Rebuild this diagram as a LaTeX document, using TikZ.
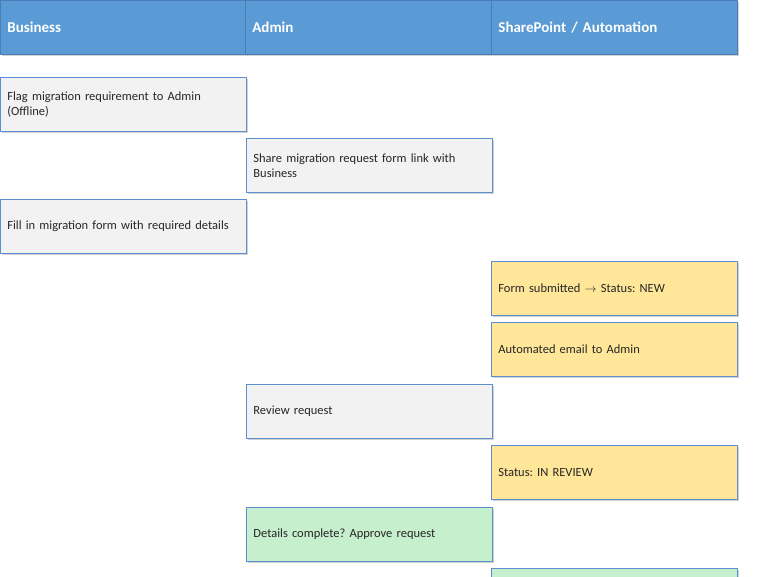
\documentclass[tikz,border=0pt]{standalone}
\usepackage{fontspec}
\setmainfont{Carlito}
\usetikzlibrary{shadows}
\definecolor{hdr}{HTML}{5B9BD5}
\definecolor{hdrline}{HTML}{4A7EBB}
\definecolor{boxline}{HTML}{5B8FD0}
\definecolor{greyfill}{HTML}{F2F2F2}
\definecolor{yelfill}{HTML}{FFE699}
\definecolor{grnfill}{HTML}{C6EFCE}
\definecolor{txt}{HTML}{262626}
\newcommand\nohyphens{\hyphenpenalty=10000 \exhyphenpenalty=10000 \relax}
\tikzset{
  lane/.style={draw=hdrline, fill=hdr, line width=0.8pt, anchor=north west,
    minimum width=246pt, minimum height=54pt, text width=232pt, inner xsep=7pt,
    align=left, text=white, font=\fontsize{15}{17}\selectfont\bfseries,
    drop shadow={shadow xshift=1.5pt, shadow yshift=-1.5pt, opacity=0.35}},
  stepbox/.style={draw=boxline, line width=0.8pt, anchor=north west,
    minimum width=246pt, minimum height=54pt, text width=232pt, inner xsep=7pt,
    align=left, text=txt, font=\nohyphens\fontsize{12.5}{15}\selectfont,
    drop shadow={shadow xshift=1.5pt, shadow yshift=-1.5pt, opacity=0.35}},
  grey/.style={stepbox, fill=greyfill},
  yel/.style={stepbox, fill=yelfill},
  grn/.style={stepbox, fill=grnfill},
}
\begin{document}
\frenchspacing
\begin{tikzpicture}[x=1pt,y=-1pt]
\useasboundingbox (0,0) rectangle (768,576);
\clip (0,0) rectangle (768,576);
\fill[white] (0,0) rectangle (768,576);
\node[lane] (hb) at (0,0) {Business};
\node[lane] (ha) at (245,0) {Admin};
\node[lane] (hs) at (491,0) {SharePoint / Automation};
\node[grey] (s1) at (0,77) {Flag migration requirement to Admin (Offline)};
\node[grey] (s2) at (246,138) {Share migration request form link with Business};
\node[grey] (s3) at (0,199) {Fill in migration form with required details};
\node[yel] (s4) at (491,261) {Form submitted $\rightarrow$ Status: NEW};
\node[yel] (s5) at (491,322) {Automated email to Admin};
\node[grey] (s6) at (246,384) {Review request};
\node[yel] (s7) at (491,445) {Status: IN REVIEW};
\node[grn] (s8) at (246,507) {Details complete? Approve request};
\node[grn] (s9) at (491,568) {};
\end{tikzpicture}
\end{document}
